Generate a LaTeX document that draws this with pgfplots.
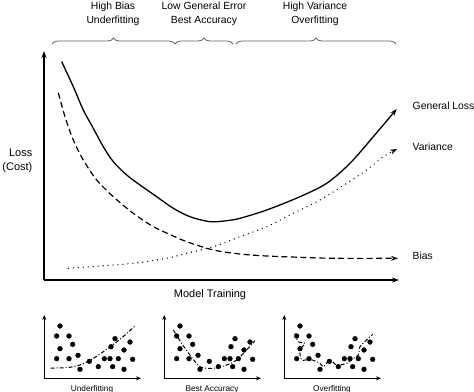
\documentclass[border=0pt]{standalone}
\usepackage{pgfplots}
\usepackage{pgfplotstable}
\pgfplotsset{compat=1.18}
\usepackage{fontspec}
\setmainfont{Liberation Sans}
\usetikzlibrary{arrows.meta,decorations.pathreplacing}
\pgfplotstableread{
x y
180 78
170 108
207 108
218 133
180 146
170 176
207 176
234 166
240 208
268 184
295 200
313 176
330 176
338 200
355 176
345 116
333 140
372 150
390 126
372 208
398 178
}\scatterdata
\begin{document}
\begin{tikzpicture}
\begin{axis}[width=474bp,height=392bp,scale only axis,hide axis,clip=false,
  xmin=0,xmax=474,ymin=0,ymax=392,y dir=reverse]
\coordinate (bbA) at (axis cs:0,0);
\coordinate (bbB) at (axis cs:474,392);
% main axes
\draw[line width=1.3pt,-{Stealth[length=7pt,width=5pt]}] (axis cs:44,280) -- (axis cs:44,51);
\draw[line width=1.3pt,-{Stealth[length=7pt,width=5pt]}] (axis cs:44,280) -- (axis cs:399,280);
% general loss
\addplot[black,line width=1.3pt,smooth,-{Stealth[length=7pt,width=5pt]}] coordinates {
(61.7,61.7)(73.3,86.7)(83.3,110)(93.3,128.3)(103.3,146.7)(113.3,161.7)(126.7,175)(140,185)(156.7,196.7)(173.3,208.3)(190,216.7)(210,221.7)(226.7,220.7)(240,218.3)(266.7,210)(300,196.7)(326.7,183.3)(350,163.3)(373.3,136.7)(396.7,109)};
% bias
\addplot[black,line width=1.2pt,smooth,dash pattern=on 6pt off 3.5pt,-{Stealth[length=7pt,width=5pt]}] coordinates {
(58.3,92.7)(65,116.7)(73.3,140)(83.3,160)(96.7,180)(113.3,196.7)(133.3,213.3)(153.3,226.7)(170,234.5)(186.7,241.7)(213.3,250)(240,254)(266.7,256)(300,257.3)(333.3,258.3)(398,258.3)};
% variance
\addplot[black,line width=1.4pt,smooth,line cap=round,dash pattern=on 0pt off 5pt,-{Stealth[length=7pt,width=5pt]}] coordinates {
(68.3,268.3)(100,266)(133.3,263.3)(166.7,258.3)(186.7,253.3)(213.3,246.7)(240,236.7)(266.7,226.7)(293.3,213.3)(320,200)(346.7,183.3)(366.7,170)(383.3,156.7)(397,149)};
% labels
\node[anchor=west,font=\fontsize{10.4}{12}\selectfont,inner sep=0pt] at (axis cs:412.5,106) {General Loss};
\node[anchor=west,font=\fontsize{10.4}{12}\selectfont,inner sep=0pt] at (axis cs:412.5,147) {Variance};
\node[anchor=west,font=\fontsize{10.4}{12}\selectfont,inner sep=0pt] at (axis cs:412.5,256) {Bias};
\node[anchor=east,align=right,font=\fontsize{11}{14}\selectfont,inner sep=0pt] at (axis cs:32.5,161) {Loss\\(Cost)};
\node[font=\fontsize{11}{12}\selectfont,inner sep=0pt] at (axis cs:210,295) {Model Training};
% top labels
\node[align=center,font=\fontsize{10.4}{14.5}\selectfont,inner sep=0pt] at (axis cs:113,13.8) {High Bias\\Underfitting};
\node[align=center,font=\fontsize{10.4}{14.5}\selectfont,inner sep=0pt] at (axis cs:204,13.8) {Low General Error\\Best Accuracy};
\node[align=center,font=\fontsize{10.4}{14.5}\selectfont,inner sep=0pt] at (axis cs:315,13.8) {High Variance\\Overfitting};
% braces
\draw[gray!80!black,line width=0.8pt,decorate,decoration={brace,amplitude=6pt}] (axis cs:52,44) -- (axis cs:175,44);
\draw[gray!80!black,line width=0.8pt,decorate,decoration={brace,amplitude=6pt}] (axis cs:175,44) -- (axis cs:233,44);
\draw[gray!80!black,line width=0.8pt,decorate,decoration={brace,amplitude=6pt}] (axis cs:236,44) -- (axis cs:396,44);
% small plots axes
\draw[line width=1pt,-{Stealth[length=5pt,width=4pt]}] (axis cs:44.3,378.3) -- (axis cs:44.3,315);
\draw[line width=1pt,-{Stealth[length=5pt,width=4pt]}] (axis cs:44.3,378.3) -- (axis cs:141,378.3);
\draw[line width=1pt,-{Stealth[length=5pt,width=4pt]}] (axis cs:164.3,378.3) -- (axis cs:164.3,315);
\draw[line width=1pt,-{Stealth[length=5pt,width=4pt]}] (axis cs:164.3,378.3) -- (axis cs:261,378.3);
\draw[line width=1pt,-{Stealth[length=5pt,width=4pt]}] (axis cs:284.3,378.3) -- (axis cs:284.3,315);
\draw[line width=1pt,-{Stealth[length=5pt,width=4pt]}] (axis cs:284.3,378.3) -- (axis cs:381,378.3);
% dots
\addplot[only marks,mark=*,mark size=2.4pt,black] table[x expr=\thisrowno{0}/3,y expr=300+\thisrowno{1}/3] {\scatterdata};
\addplot[only marks,mark=*,mark size=2.4pt,black] table[x expr=\thisrowno{0}/3+120,y expr=300+\thisrowno{1}/3] {\scatterdata};
\addplot[only marks,mark=*,mark size=2.4pt,black] table[x expr=\thisrowno{0}/3+240,y expr=300+\thisrowno{1}/3] {\scatterdata};
% fits
\addplot[black,line width=1pt,smooth,dash pattern=on 4pt off 2pt on 1pt off 2pt] table[x expr=\thisrowno{0}/3,y expr=300+\thisrowno{1}/3] {
x y
152 204
200 203
240 195
280 175
320 148
360 118
405 78
};
\addplot[black,line width=1pt,smooth,dash pattern=on 4pt off 2pt on 1pt off 2pt] table[x expr=\thisrowno{0}/3+120,y expr=300+\thisrowno{1}/3] {
x y
160 90
185 130
210 165
240 200
280 205
320 195
350 180
375 155
405 122
};
\addplot[black,line width=1pt,smooth,dash pattern=on 4pt off 2pt on 1pt off 2pt] table[x expr=\thisrowno{0}/3+240,y expr=300+\thisrowno{1}/3] {
x y
165 100
175 125
195 130
180 150
185 180
210 178
240 190
250 200
270 180
290 195
320 190
340 175
355 165
360 140
380 120
398 103
};
\node[anchor=north,font=\fontsize{8.3}{10}\selectfont,inner sep=0pt] at (axis cs:92,385.5) {Underfitting};
\node[anchor=north,font=\fontsize{8.3}{10}\selectfont,inner sep=0pt] at (axis cs:212,385.5) {Best Accuracy};
\node[anchor=north,font=\fontsize{8.3}{10}\selectfont,inner sep=0pt] at (axis cs:332,385.5) {Overfitting};
\end{axis}
\pgfresetboundingbox
\useasboundingbox (bbA) rectangle (bbB);
\end{tikzpicture}
\end{document}
